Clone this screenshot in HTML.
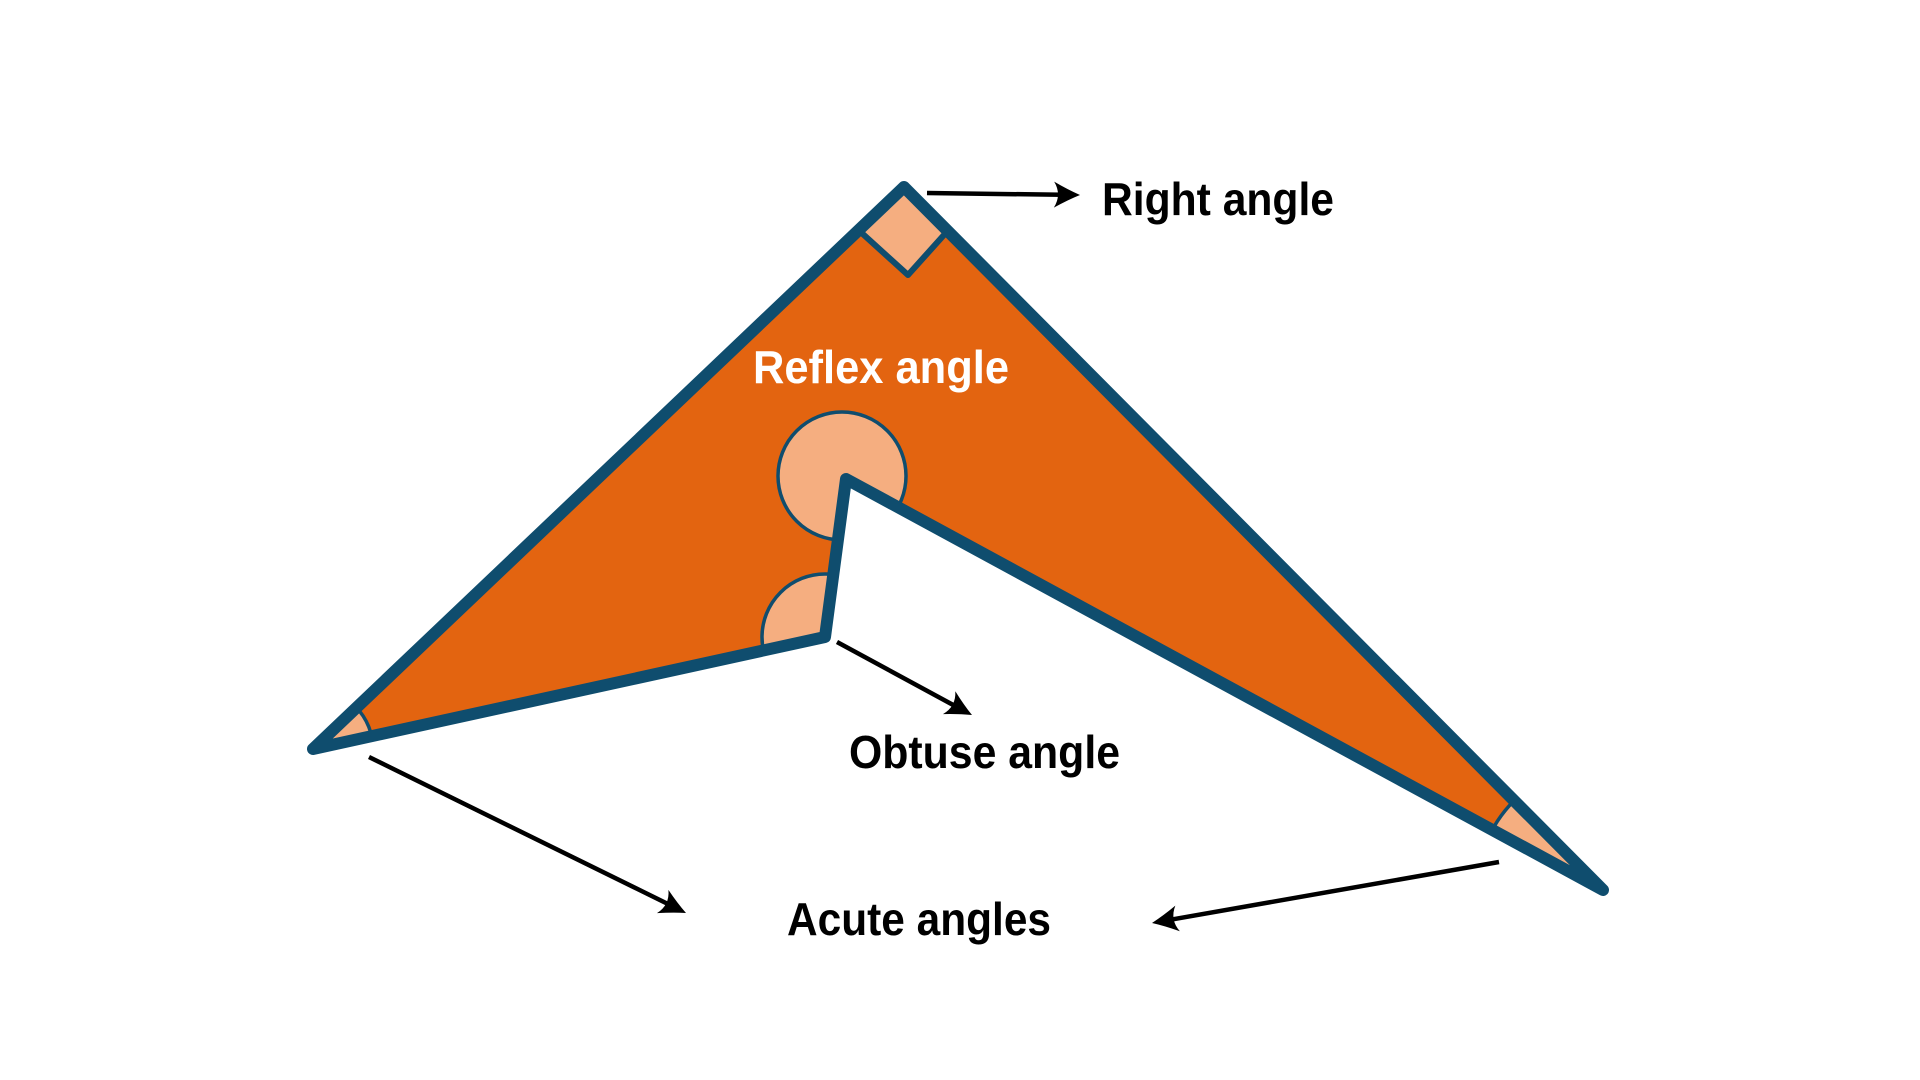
<!DOCTYPE html>
<html>
<head>
<meta charset="utf-8">
<style>
html,body{margin:0;padding:0;background:#fff;}
svg{display:block;}
text{font-family:"Liberation Sans",sans-serif;font-weight:bold;}
</style>
</head>
<body>
<svg width="1920" height="1080" viewBox="0 0 1920 1080" xmlns="http://www.w3.org/2000/svg">
  <defs>
    <clipPath id="shape">
      <polygon points="904,187 1603,890 846,479 825,637 313,749"/>
    </clipPath>
    <path id="ah" d="M0,0 Q-12,-5 -26,-13 Q-18,0 -26,13 Q-12,5 0,0 Z" fill="#000"/>
  </defs>
  <rect width="1920" height="1080" fill="#fff"/>

  <!-- main shape fill -->
  <polygon points="904,187 1603,890 846,479 825,637 313,749" fill="#e36410"/>

  <!-- angle markers -->
  <g clip-path="url(#shape)">
    <circle cx="842" cy="476" r="64" fill="#f5ae80" stroke="#0f4d6e" stroke-width="3.5"/>
    <circle cx="825" cy="637" r="63" fill="#f5ae80" stroke="#0f4d6e" stroke-width="3.5"/>
    <circle cx="313" cy="749" r="60" fill="#f5ae80" stroke="#0f4d6e" stroke-width="3.5"/>
    <circle cx="1603" cy="890" r="126" fill="#f5ae80" stroke="#0f4d6e" stroke-width="3.5"/>
    <polygon points="904,187 861,232 908,275 946,232" fill="#f5ae80"/>
    <polyline points="854,226 908,275 952,226" fill="none" stroke="#0f4d6e" stroke-width="6" stroke-linejoin="round"/>
  </g>

  <!-- main shape outline -->
  <polygon points="904,187 1603,890 846,479 825,637 313,749" fill="none" stroke="#0f4d6e" stroke-width="12" stroke-linejoin="round"/>

  <!-- arrows -->
  <g stroke="#000" stroke-width="4.5" stroke-linecap="butt" fill="none">
    <line x1="927" y1="193" x2="1062" y2="194.8"/>
    <line x1="837" y1="642" x2="956" y2="706.5"/>
    <line x1="369" y1="757" x2="670" y2="905"/>
    <line x1="1499" y1="862" x2="1170" y2="919.8"/>
  </g>
  <use href="#ah" transform="translate(1080,195) rotate(0.75)"/>
  <use href="#ah" transform="translate(972,715) rotate(28.4)"/>
  <use href="#ah" transform="translate(686,913) rotate(26.2)"/>
  <use href="#ah" transform="translate(1152,923) rotate(170)"/>

  <!-- labels -->
  <text x="1102" y="215" font-size="46" fill="#000" textLength="232" lengthAdjust="spacingAndGlyphs">Right angle</text>
  <text x="753" y="383" font-size="46" fill="#fff" textLength="256" lengthAdjust="spacingAndGlyphs">Reflex angle</text>
  <text x="849" y="768" font-size="46" fill="#000" textLength="271" lengthAdjust="spacingAndGlyphs">Obtuse angle</text>
  <text x="787" y="935" font-size="46" fill="#000" textLength="264" lengthAdjust="spacingAndGlyphs">Acute angles</text>
</svg>
</body>
</html>
